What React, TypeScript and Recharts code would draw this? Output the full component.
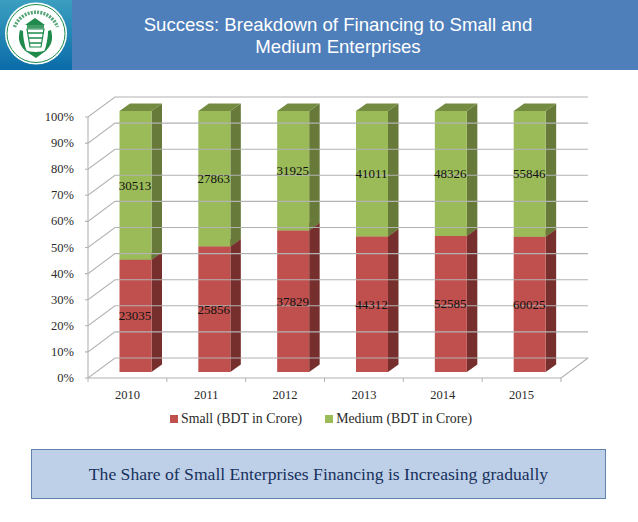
import React from "react";
import { BarChart, Bar, XAxis, YAxis, Legend, LabelList } from "recharts";

const years = ["2010", "2011", "2012", "2013", "2014", "2015"];
const small = [23035, 25856, 37829, 44312, 52585, 60025];
const medium = [30513, 27863, 31925, 41011, 48326, 55846];
const percentTicks = [0, 0.1, 0.2, 0.3, 0.4, 0.5, 0.6, 0.7, 0.8, 0.9, 1];
const titleLines = ["Success: Breakdown of Financing to Small and", "Medium Enterprises"];
const note = "The Share of Small Enterprises Financing is Increasing gradually";
const smallName = "Small (BDT in Crore)";
const mediumName = "Medium (BDT in Crore)";

const rows = years.map((year, i) => ({ year, small: small[i], medium: medium[i] }));

const W = 638;
const H = 522;
const LEFT = 88;
const RIGHT = 561;
const TOP = 117;
const BOTTOM = 378;
const BACK_DX = 27;
const BACK_DY = 20;
const BAR_DX = 8.5;
const BAR_DY = 6;
const DEPTH_X = 10.5;
const DEPTH_Y = 7.5;
const GRID = "#b2b2b2";
const SERIF = "'Liberation Serif', serif";

const Box3D = (colors: { front: string; side: string; top: string }) => (p: any) => {
  const x = p.x + BAR_DX;
  const y = p.y - BAR_DY;
  const w = p.width;
  const h = p.height;
  return (
    <g>
      <polygon
        points={`${x + w},${y} ${x + w + DEPTH_X},${y - DEPTH_Y} ${x + w + DEPTH_X},${y + h - DEPTH_Y} ${x + w},${y + h}`}
        fill={colors.side}
      />
      <polygon
        points={`${x},${y} ${x + DEPTH_X},${y - DEPTH_Y} ${x + w + DEPTH_X},${y - DEPTH_Y} ${x + w},${y}`}
        fill={colors.top}
      />
      <rect x={x} y={y} width={w} height={h} fill={colors.front} />
    </g>
  );
};

const BarValue = (p: any) => (
  <text
    x={p.x + p.width / 2 + BAR_DX - 0.5}
    y={p.y + p.height / 2 - BAR_DY}
    textAnchor="middle"
    dominantBaseline="central"
    fontFamily={SERIF}
    fontSize={13}
    fill="#111"
  >
    {p.value}
  </text>
);

const YTick = (p: any) => {
  const y = p.y;
  return (
    <g>
      <polyline
        points={`${LEFT - 3},${y} ${LEFT},${y} ${LEFT + BACK_DX},${y - BACK_DY} ${RIGHT + BACK_DX},${y - BACK_DY}`}
        fill="none"
        stroke={GRID}
        strokeWidth={1.1}
      />
      <text
        x={LEFT - 14}
        y={y}
        textAnchor="end"
        dominantBaseline="central"
        fontFamily={SERIF}
        fontSize={12.5}
        fill="#2a2a2a"
      >
        {Math.round(p.payload.value * 100)}%
      </text>
    </g>
  );
};

const XTick = (p: any) => {
  const band = (RIGHT - LEFT) / years.length;
  return (
    <g>
      <line x1={p.x - band / 2} x2={p.x - band / 2} y1={BOTTOM} y2={BOTTOM + 4} stroke={GRID} />
      {p.index === years.length - 1 && (
        <polyline
          points={`${p.x + band / 2},${BOTTOM + 4} ${p.x + band / 2},${BOTTOM} ${RIGHT + BACK_DX},${BOTTOM - BACK_DY}`}
          fill="none"
          stroke={GRID}
          strokeWidth={1.1}
        />
      )}
      <text
        x={p.x}
        y={BOTTOM + 17}
        textAnchor="middle"
        dominantBaseline="central"
        fontFamily={SERIF}
        fontSize={12.5}
        fill="#2a2a2a"
      >
        {p.payload.value}
      </text>
    </g>
  );
};

const LegendBody = (p: any) => {
  const entries = [...(p.payload || [])].sort((a: any) => (a.value === smallName ? -1 : 1));
  return (
    <div style={{ display: "flex", justifyContent: "center", gap: 23, fontFamily: SERIF, fontSize: 13.8, color: "#2a2a2a", whiteSpace: "nowrap" }}>
      {entries.map((e: any) => (
        <span key={e.value} style={{ display: "flex", alignItems: "center", gap: 3 }}>
          <span style={{ width: 8, height: 8, background: e.color, display: "inline-block" }} />
          {e.value}
        </span>
      ))}
    </div>
  );
};

const Logo = () => (
  <svg width={72} height={70} style={{ position: "absolute", left: 0, top: 0 }}>
    <defs>
      <linearGradient id="lg" x1="0" y1="0" x2="0" y2="1">
        <stop offset="0" stopColor="#3b9fc0" />
        <stop offset="1" stopColor="#0a6ca8" />
      </linearGradient>
    </defs>
    <rect width={72} height={70} fill="url(#lg)" />
    <circle cx={36} cy={33.5} r={31} fill="#fff" />
    <circle cx={36} cy={33.5} r={29} fill="#fff" stroke="#1d8a4f" strokeWidth={1} />
    <path
      d="M14.5 27 A23 23 0 0 1 57.5 27"
      fill="none"
      stroke="#2a8f58"
      strokeWidth={3.5}
      strokeDasharray="2 1.2"
      opacity={0.8}
    />
    <polygon points="35,18 45,25 25,25" fill="#1f8a4c" />
    <rect x={27} y={25} width={17} height={3.5} fill="#1f8a4c" opacity={0.85} />
    <polygon points="27,29 44,29 41,47 30,47" fill="#fff" stroke="#1f8a4c" strokeWidth={1.2} />
    <path d="M28 33 H43 M29 38 H42 M30 43 H41" stroke="#1f8a4c" strokeWidth={1.3} />
    <path d="M20 30 Q16 44 27 52 Q23 41 23 31 Z M51 30 Q55 44 44 52 Q48 41 48 31 Z" fill="#1f8a4c" />
    <path d="M24 50 Q36 54 47 50 L36 58 Z" fill="#1f8a4c" />
  </svg>
);

export default function App() {
  return (
    <div style={{ position: "absolute", left: 0, top: 0, width: W, height: H, background: "#fff", overflow: "hidden" }}>
      <div
        style={{
          position: "absolute",
          left: 72,
          top: 0,
          width: W - 72,
          height: 70,
          background: "#4f7fbb",
        }}
      />
      <div
        style={{
          position: "absolute",
          left: 72,
          top: 0,
          width: 532,
          height: 70,
          color: "#fff",
          fontFamily: "'Liberation Sans', sans-serif",
          fontSize: 18.6,
          lineHeight: "22px",
          textAlign: "center",
          paddingTop: 14,
          boxSizing: "border-box",
        }}
      >
        {titleLines.map((t) => (
          <div key={t}>{t}</div>
        ))}
      </div>
      <Logo />
      <div style={{ position: "absolute", left: 0, top: 0 }}>
        <BarChart
          width={W}
          height={H}
          data={rows}
          stackOffset="expand"
          barSize={32}
          margin={{ left: LEFT - 40, right: W - RIGHT, top: TOP, bottom: H - BOTTOM - 30 }}
        >
          <YAxis
            width={40}
            domain={[0, 1]}
            ticks={percentTicks}
            interval={0}
            tick={<YTick />}
            tickLine={false}
            axisLine={{ stroke: GRID, strokeWidth: 1.1 }}
          />
          <XAxis
            dataKey="year"
            height={30}
            interval={0}
            tick={<XTick />}
            tickLine={false}
            axisLine={{ stroke: GRID, strokeWidth: 1.1 }}
          />
          <Legend
            layout="horizontal"
            verticalAlign="middle"
            align="center"
            content={<LegendBody />}
            wrapperStyle={{ top: 411, left: 0, width: 642 }}
          />
          <Bar
            dataKey="small"
            name={smallName}
            stackId="a"
            fill="#c0504d"
            isAnimationActive={false}
            shape={Box3D({ front: "#c0504d", side: "#772f2e", top: "#9a3f3d" })}
          >
            <LabelList dataKey="small" content={<BarValue />} />
          </Bar>
          <Bar
            dataKey="medium"
            name={mediumName}
            stackId="a"
            fill="#9bbb59"
            isAnimationActive={false}
            shape={Box3D({ front: "#9bbb59", side: "#677a3a", top: "#748c41" })}
          >
            <LabelList dataKey="medium" content={<BarValue />} />
          </Bar>
        </BarChart>
      </div>
      <div
        style={{
          position: "absolute",
          left: 31,
          top: 449,
          width: 575,
          height: 50,
          boxSizing: "border-box",
          background: "#bed0e8",
          border: "1px solid #5f83ad",
          color: "#17305c",
          fontFamily: SERIF,
          fontSize: 17.6,
          lineHeight: "48px",
          textAlign: "center",
        }}
      >
        {note}
      </div>
    </div>
  );
}
